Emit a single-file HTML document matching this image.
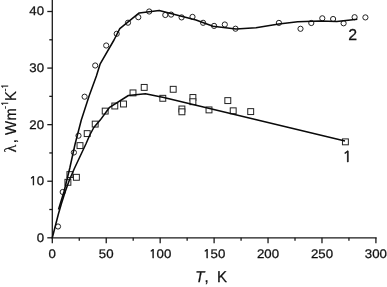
<!DOCTYPE html>
<html><head><meta charset="utf-8"><title>chart</title>
<style>
html,body{margin:0;padding:0;background:#fff;}
svg{display:block;text-rendering:geometricPrecision;font-family:"Liberation Sans",sans-serif;fill:#111;}
</style></head><body>
<svg width="387" height="287" viewBox="0 0 387 287">
<rect width="387" height="287" fill="#fff"/>

<g stroke="#1a1a1a" stroke-width="1.3" fill="none">
<line x1="52.3" y1="0" x2="52.3" y2="238.55"/>
<line x1="51.55" y1="237.8" x2="376.66" y2="237.8"/>
<line x1="52.30" y1="237.8" x2="52.30" y2="243.3"/>
<line x1="79.27" y1="237.8" x2="79.27" y2="240.8"/>
<line x1="106.23" y1="237.8" x2="106.23" y2="243.3"/>
<line x1="133.20" y1="237.8" x2="133.20" y2="240.8"/>
<line x1="160.17" y1="237.8" x2="160.17" y2="243.3"/>
<line x1="187.14" y1="237.8" x2="187.14" y2="240.8"/>
<line x1="214.11" y1="237.8" x2="214.11" y2="243.3"/>
<line x1="241.07" y1="237.8" x2="241.07" y2="240.8"/>
<line x1="268.04" y1="237.8" x2="268.04" y2="243.3"/>
<line x1="295.01" y1="237.8" x2="295.01" y2="240.8"/>
<line x1="321.98" y1="237.8" x2="321.98" y2="243.3"/>
<line x1="348.94" y1="237.8" x2="348.94" y2="240.8"/>
<line x1="375.91" y1="237.8" x2="375.91" y2="243.3"/>
<line x1="52.3" y1="237.80" x2="47.3" y2="237.80"/>
<line x1="52.3" y1="209.51" x2="49.3" y2="209.51"/>
<line x1="52.3" y1="181.23" x2="47.3" y2="181.23"/>
<line x1="52.3" y1="152.94" x2="49.3" y2="152.94"/>
<line x1="52.3" y1="124.65" x2="47.3" y2="124.65"/>
<line x1="52.3" y1="96.36" x2="49.3" y2="96.36"/>
<line x1="52.3" y1="68.08" x2="47.3" y2="68.08"/>
<line x1="52.3" y1="39.79" x2="49.3" y2="39.79"/>
<line x1="52.3" y1="11.50" x2="47.3" y2="11.50"/>
</g>
<g font-size="12.5px" text-anchor="middle" stroke="#111" stroke-width="0.25">
<text transform="translate(52.30,258.35) scale(1.06,1)">0</text>
<text transform="translate(106.23,258.35) scale(1.06,1)">50</text>
<text transform="translate(160.17,258.35) scale(1.06,1)"><tspan font-family="NanumGothic,Liberation Sans,sans-serif" font-size="11.8px" stroke-width="0.45">1</tspan>00</text>
<text transform="translate(214.11,258.35) scale(1.06,1)"><tspan font-family="NanumGothic,Liberation Sans,sans-serif" font-size="11.8px" stroke-width="0.45">1</tspan>50</text>
<text transform="translate(268.04,258.35) scale(1.06,1)">200</text>
<text transform="translate(321.98,258.35) scale(1.06,1)">250</text>
<text transform="translate(375.91,258.35) scale(1.06,1)">300</text>
</g>
<g font-size="12.5px" text-anchor="end" stroke="#111" stroke-width="0.25">
<text transform="translate(44.1,241.65) scale(1.06,1)">0</text>
<text transform="translate(44.1,185.08) scale(1.06,1)"><tspan font-family="NanumGothic,Liberation Sans,sans-serif" font-size="11.8px" stroke-width="0.45">1</tspan>0</text>
<text transform="translate(44.1,128.50) scale(1.06,1)">20</text>
<text transform="translate(44.1,71.93) scale(1.06,1)">30</text>
<text transform="translate(44.1,15.35) scale(1.06,1)">40</text>
</g>
<g fill="#fff" stroke="#222" stroke-width="1">
<circle cx="58" cy="226.5" r="2.6"/>
<circle cx="62.7" cy="192" r="2.6"/>
<circle cx="73.9" cy="152.5" r="2.6"/>
<circle cx="78.5" cy="135.7" r="2.6"/>
<circle cx="84.6" cy="96.7" r="2.6"/>
<circle cx="95.2" cy="65.5" r="2.6"/>
<circle cx="106.2" cy="45.5" r="2.6"/>
<circle cx="116.7" cy="33.8" r="2.6"/>
<circle cx="128" cy="22.7" r="2.6"/>
<circle cx="138.3" cy="17.2" r="2.6"/>
<circle cx="149.2" cy="11.5" r="2.6"/>
<circle cx="165.3" cy="15" r="2.6"/>
<circle cx="171.1" cy="14.6" r="2.6"/>
<circle cx="181.6" cy="17.4" r="2.6"/>
<circle cx="192.5" cy="16.9" r="2.6"/>
<circle cx="203.1" cy="22.8" r="2.6"/>
<circle cx="214.1" cy="25.9" r="2.6"/>
<circle cx="224.8" cy="24.5" r="2.6"/>
<circle cx="235.5" cy="28.7" r="2.6"/>
<circle cx="278.9" cy="22.9" r="2.6"/>
<circle cx="300.5" cy="28.8" r="2.6"/>
<circle cx="311.3" cy="23.0" r="2.6"/>
<circle cx="322.3" cy="18.3" r="2.6"/>
<circle cx="333.1" cy="19.0" r="2.6"/>
<circle cx="343.6" cy="23.3" r="2.6"/>
<circle cx="354.6" cy="17.2" r="2.6"/>
<circle cx="365.4" cy="17.4" r="2.6"/>
<rect x="64.95" y="179.35" width="5.9" height="5.9"/>
<rect x="66.95" y="171.65" width="5.9" height="5.9"/>
<rect x="73.45" y="174.35" width="5.9" height="5.9"/>
<rect x="77.05" y="142.65" width="5.9" height="5.9"/>
<rect x="84.25" y="130.65" width="5.9" height="5.9"/>
<rect x="92.25" y="121.15" width="5.9" height="5.9"/>
<rect x="102.25" y="108.15" width="5.9" height="5.9"/>
<rect x="111.85" y="103.05" width="5.9" height="5.9"/>
<rect x="120.55" y="101.05" width="5.9" height="5.9"/>
<rect x="130.05" y="89.95" width="5.9" height="5.9"/>
<rect x="141.25" y="84.45" width="5.9" height="5.9"/>
<rect x="159.85" y="95.35" width="5.9" height="5.9"/>
<rect x="170.25" y="86.35" width="5.9" height="5.9"/>
<rect x="178.95" y="106.05" width="5.9" height="5.9"/>
<rect x="178.95" y="108.85" width="5.9" height="5.9"/>
<rect x="189.95" y="94.55" width="5.9" height="5.9"/>
<rect x="189.95" y="98.75" width="5.9" height="5.9"/>
<rect x="206.05" y="106.95" width="5.9" height="5.9"/>
<rect x="224.85" y="97.65" width="5.9" height="5.9"/>
<rect x="230.25" y="107.85" width="5.9" height="5.9"/>
<rect x="247.75" y="108.65" width="5.9" height="5.9"/>
<rect x="342.45" y="138.90" width="5.9" height="5.9"/>
</g>
<path d="M52.3,237.8 L58.4,214 L61.3,204 L65.1,192 L69.4,180 L74.6,168 L85.9,144 L89.8,135 L93.8,127.5 L100.2,120.1 L109.6,107.3 L128.4,95.5 L145.4,93.8 L163.8,97.6 L345,141.0" fill="none" stroke="#0a0a0a" stroke-width="1.55" stroke-linejoin="round"/>
<path d="M58.5,209.6 L63.9,192 L69.8,168 L75.1,144 L81.3,120 L89.1,96 L96.4,76 L100.2,63.8 L114,40 L119.8,28.6 L139.2,12.9 L159.2,10.4 L196,20.1 L213,26.2 L236,29.0 L256,27.8 L278.8,24.0 L297.7,21.7 L319.8,20.9 L336.8,21.6 L357.3,19.3" fill="none" stroke="#0a0a0a" stroke-width="1.55" stroke-linejoin="round"/>
<text transform="translate(348.2,39.5) scale(1.04,1.03)" font-size="15.3px" stroke="#111" stroke-width="0.25">2</text>
<text transform="translate(342.5,162.1) scale(1.07,1.03)" font-size="14.6px" stroke="#111" stroke-width="0.5" font-family="NanumGothic,Liberation Sans,sans-serif">1</text>
<text transform="translate(195.3,281.5) scale(1,1.05)" font-size="15px" stroke="#111" stroke-width="0.25" xml:space="preserve"><tspan font-style="italic">T</tspan>,  K</text>
<g transform="translate(15.9,152.6) rotate(-90) scale(1,1.06)" font-size="14.8px" stroke="#111" stroke-width="0.2"><text x="0" y="0" font-family="Liberation Serif,serif" font-size="16px">λ</text><text x="9.3" y="0">,</text><text x="17.7" y="0">W</text><text x="32" y="0">m</text><text x="43.6" y="-7.5" font-size="8.8px">-<tspan font-family="NanumGothic,Liberation Sans,sans-serif" font-size="8.4px" stroke-width="0.35">1</tspan></text><text x="51.6" y="0">K</text><text x="61" y="-7.5" font-size="8.8px">-<tspan font-family="NanumGothic,Liberation Sans,sans-serif" font-size="8.4px" stroke-width="0.35">1</tspan></text></g>
</svg></body></html>
